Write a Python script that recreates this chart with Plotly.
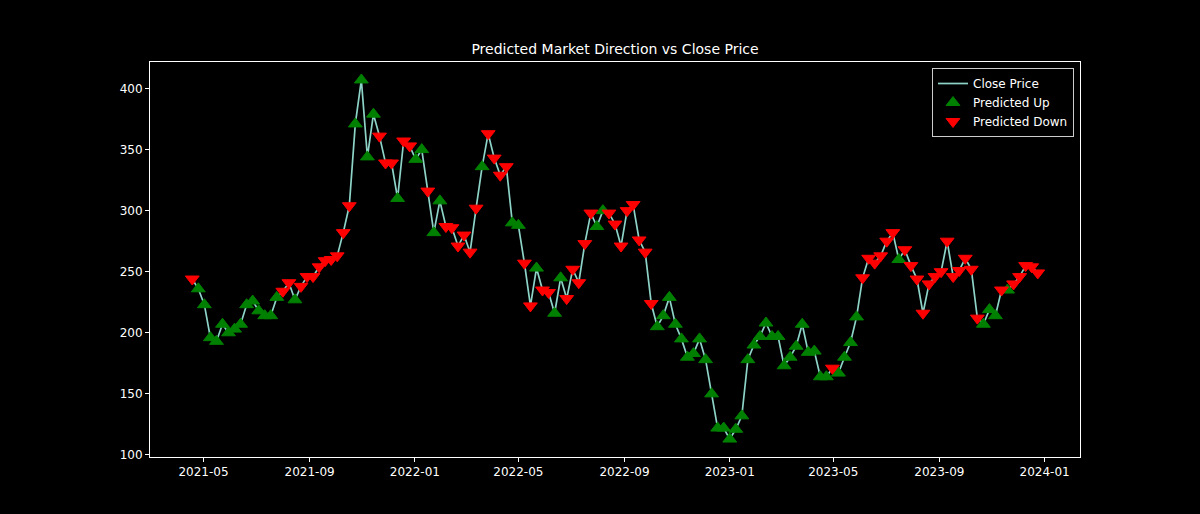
import pandas as pd
import plotly.graph_objects as go

# Weekly dates (W-SUN)
dates = pd.date_range("2021-04-18", periods=141, freq="W-SUN")

close_price = [
    244, 236, 223, 196, 193, 207, 200, 203, 207, 223,
    226, 218, 214, 214, 229, 234, 241, 227, 238, 246,
    246, 254, 259, 260, 263, 282, 304, 371, 407, 344,
    379, 361, 339, 339, 310, 357, 353, 342, 350, 316,
    282, 308, 287, 286, 271, 280, 266, 302, 336, 363,
    343, 329, 336, 290, 288, 257, 222, 253, 235, 233,
    216, 245, 228, 252, 241, 273, 298, 287, 300, 298,
    289, 271, 300, 305, 276, 266, 224, 205, 214, 229,
    207, 195, 180, 183, 195, 178, 150, 122, 122, 113,
    121, 132, 178, 190, 197, 208, 197, 197, 173, 180,
    189, 207, 184, 185, 164, 164, 171, 167, 180, 192,
    213, 245, 261, 257, 263, 275, 282, 260, 268, 255,
    244, 216, 240, 246, 250, 275, 246, 251, 261, 252,
    212, 207, 219, 214, 235, 235, 240, 246, 255, 254,
    249,
]

# 1 = predicted up, 0 = predicted down
prediction = [
    0, 1, 1, 1, 1, 1, 1, 1, 1, 1,
    1, 1, 1, 1, 1, 0, 0, 1, 0, 0,
    0, 0, 0, 0, 0, 0, 0, 1, 1, 1,
    1, 0, 0, 0, 1, 0, 0, 1, 1, 0,
    1, 1, 0, 0, 0, 0, 0, 0, 1, 0,
    0, 0, 0, 1, 1, 0, 0, 1, 0, 0,
    1, 1, 0, 0, 0, 0, 0, 1, 1, 0,
    0, 0, 0, 0, 0, 0, 0, 1, 1, 1,
    1, 1, 1, 1, 1, 1, 1, 1, 1, 1,
    1, 1, 1, 1, 1, 1, 1, 1, 1, 1,
    1, 1, 1, 1, 1, 1, 0, 1, 1, 1,
    1, 0, 0, 0, 0, 0, 0, 1, 0, 0,
    0, 0, 0, 0, 0, 0, 0, 0, 0, 0,
    0, 1, 1, 1, 0, 1, 0, 0, 0, 0,
    0,
]

y_ticks = [100, 150, 200, 250, 300, 350, 400]
title_text = "Predicted Market Direction vs Close Price"

df = pd.DataFrame({"date": dates, "close": close_price, "pred": prediction})
up = df[df["pred"] == 1]
down = df[df["pred"] == 0]

FONT = "DejaVu Sans"

fig = go.Figure()
fig.add_trace(go.Scatter(
    x=df["date"], y=df["close"], mode="lines", name="Close Price",
    line=dict(color="#8dd3c7", width=1.7),
))
fig.add_trace(go.Scatter(
    x=up["date"], y=up["close"], mode="markers", name="Predicted Up",
    marker=dict(symbol="triangle-up", size=12, color="green",
                line=dict(color="green", width=1)),
))
fig.add_trace(go.Scatter(
    x=down["date"], y=down["close"], mode="markers", name="Predicted Down",
    marker=dict(symbol="triangle-down", size=12, color="red",
                line=dict(color="red", width=1)),
))

# matplotlib-like 5% margins
x0, x1 = df["date"].min(), df["date"].max()
xm = (x1 - x0) * 0.05
y0, y1 = min(close_price), max(close_price)
ym = (y1 - y0) * 0.05

axis_common = dict(
    showgrid=False, zeroline=False, showline=True, mirror=True,
    linecolor="white", linewidth=1, ticks="outside", ticklen=4,
    tickcolor="white", tickwidth=1,
    tickfont=dict(family=FONT, size=12, color="white"),
)

fig.update_layout(
    width=1200, height=514,
    paper_bgcolor="black", plot_bgcolor="black",
    margin=dict(l=150, r=120, t=62, b=57),
    title=dict(text=title_text, x=615 / 1200, xanchor="center",
               y=1 - 49 / 514, yanchor="middle",
               font=dict(family=FONT, size=14, color="white")),
    font=dict(family=FONT, color="white"),
    showlegend=True,
    legend=dict(x=1 - 6 / 930, y=1 - 6 / 395, xanchor="right", yanchor="top",
                bgcolor="black", bordercolor="#cccccc", borderwidth=1,
                font=dict(family=FONT, size=12, color="white"),
                tracegroupgap=0),
    xaxis=dict(range=[x0 - xm, x1 + xm], dtick="M4", tick0="2021-01-01",
               tickformat="%Y-%m", **axis_common),
    yaxis=dict(range=[y0 - ym, y1 + ym], tickvals=y_ticks, **axis_common),
)

fig.write_html("out.html")
